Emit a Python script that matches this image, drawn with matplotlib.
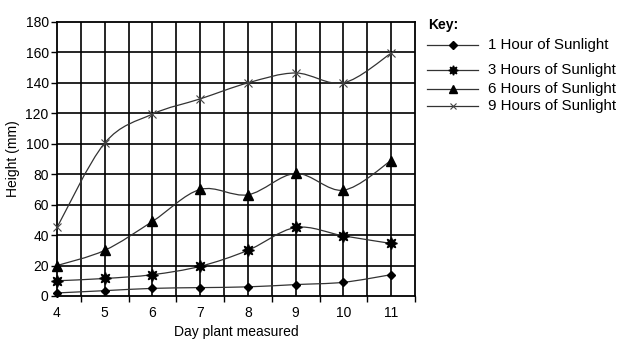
import numpy as np
import matplotlib
matplotlib.use("Agg")
import matplotlib.pyplot as plt
from matplotlib.path import Path
from matplotlib.patches import PathPatch
from matplotlib.lines import Line2D

plt.rcParams['font.family'] = ['Liberation Sans', 'DejaVu Sans']

days = [4, 5, 6, 7, 8, 9, 10, 11]
hour1 = [2, 3.5, 5, 5.5, 6, 7.5, 9, 14]
hour3 = [10, 11.5, 14, 19.5, 30, 45, 39.5, 34.5]
hour6 = [20, 30, 49, 70, 66.5, 80.5, 69.5, 89]
hour9 = [45, 100.5, 119.5, 129.5, 140, 146.5, 140, 159.5]
labels = ["1 Hour of Sunlight", "3 Hours of Sunlight",
          "6 Hours of Sunlight", "9 Hours of Sunlight"]

star8 = (8, 1, 0)
styles = [dict(marker='D', ms=4.5, mfc='black', mec='black'),
          dict(marker=star8, ms=8.5, mfc='black', mec='black'),
          dict(marker='^', ms=7, mfc='black', mec='black'),
          dict(marker='x', ms=6, mfc='none', mec='#444444', mew=0.8)]


def smooth_path(x, y):
    # cubic bezier through the points, catmull-rom style control points
    p = np.column_stack([x, y]).astype(float)
    ext = np.vstack([p[0], p, p[-1]])
    verts = [p[0]]
    codes = [Path.MOVETO]
    for i in range(1, len(ext) - 2):
        p0, p1, p2, p3 = ext[i - 1], ext[i], ext[i + 1], ext[i + 2]
        c1 = p1 + (p2 - p0) / 6.0
        c2 = p2 - (p3 - p1) / 6.0
        verts += [c1, c2, p2]
        codes += [Path.CURVE4] * 3
    return Path(verts, codes)


fig = plt.figure(figsize=(6.34, 3.47), dpi=100)
ax = fig.add_axes([0.0899, 0.147, 0.5647, 0.7896])

ax.set_xlim(4, 11.5)
ax.set_ylim(0, 180)
# day labels sit on the integers, tick marks on the half-day boundaries
ax.set_xticks(days)
ax.set_xticklabels([str(d) for d in days])
ax.set_xticks(np.arange(4.5, 11.6, 1.0), minor=True)
ax.tick_params(axis='x', which='major', length=0, labelsize=10, pad=7)
ax.tick_params(axis='x', which='minor', length=4, width=1, direction='out')
ax.set_yticks(np.arange(0, 181, 20))
ax.tick_params(axis='y', length=4, width=1, labelsize=10, pad=2)

# grid: every half day and every 20 mm
for gx in np.arange(4.5, 11.5, 0.5):
    ax.axvline(gx, color='black', lw=1.2, zorder=1)
for gy in np.arange(20, 180, 20):
    ax.axhline(gy, color='black', lw=1.2, zorder=1)
for s in ax.spines.values():
    s.set_linewidth(1.3)

for ys, st in zip([hour1, hour3, hour6, hour9], styles):
    ax.add_patch(PathPatch(smooth_path(days, ys), fc='none', ec='#333333',
                           lw=0.9, zorder=3, clip_on=False))
    ax.plot(days, ys, ls='none', zorder=4, clip_on=False, **st)

ax.set_xlabel("Day plant measured", fontsize=10, labelpad=4)
ax.set_ylabel("Height (mm)", fontsize=10, labelpad=4)

# key
fig.text(428 / 634, 1 - 25 / 347, "Key:", fontsize=10, fontweight='bold', va='center')
rows_y = [45, 70, 89, 106]
for ry, lab, st in zip(rows_y, labels, styles):
    yf = 1 - ry / 347
    fig.add_artist(Line2D([427 / 634, 478 / 634], [yf, yf], color='#333333', lw=0.9,
                          transform=fig.transFigure))
    fig.add_artist(Line2D([452.5 / 634], [yf], ls='none', transform=fig.transFigure,
                          **{k: (v * 0.8 if k == 'ms' else v) for k, v in st.items()}))
    fig.text(488 / 634, yf, lab, fontsize=10.8, va='center')

fig.savefig("out.png", dpi=100, facecolor='white')
